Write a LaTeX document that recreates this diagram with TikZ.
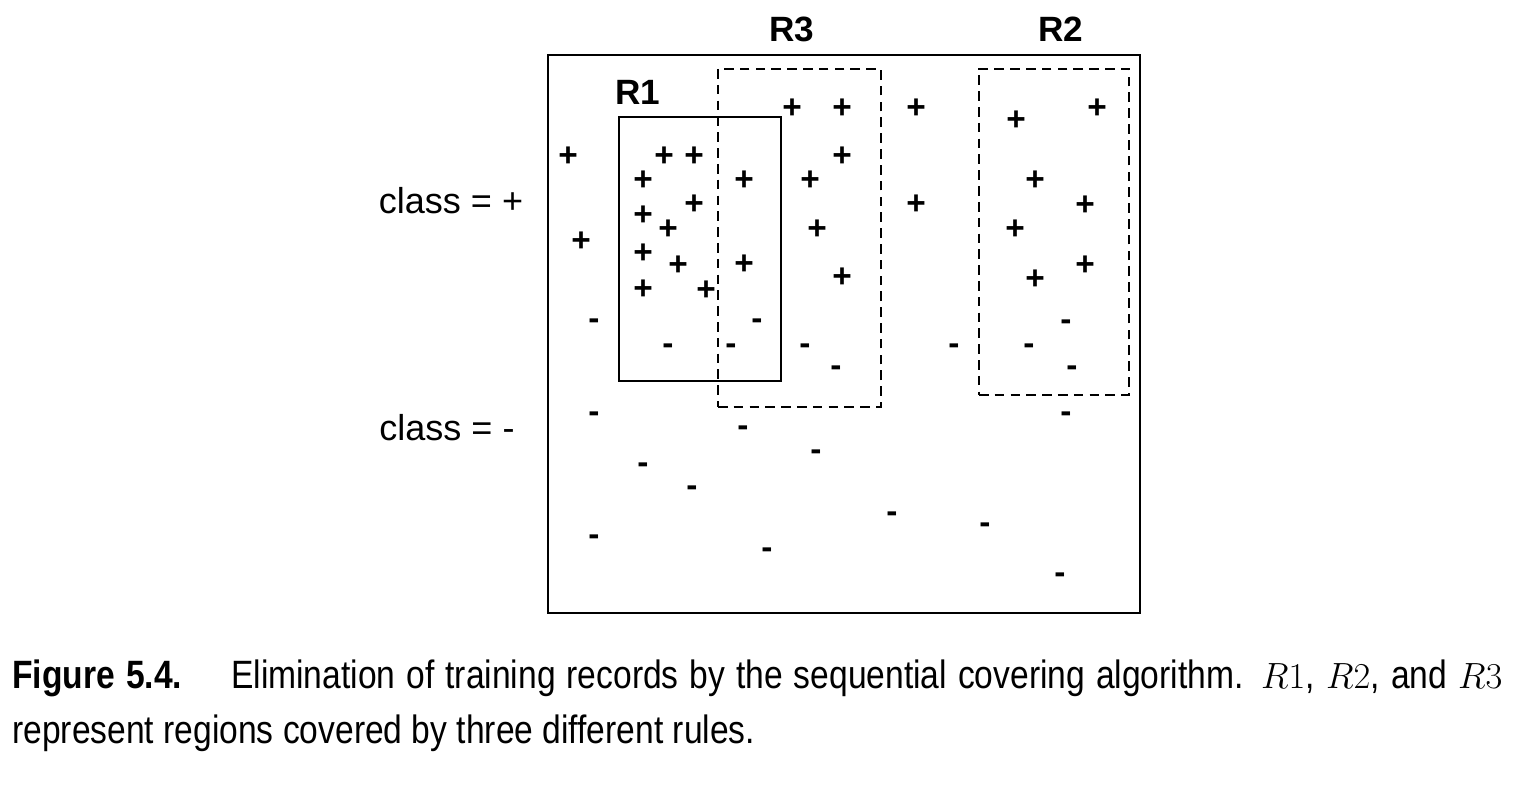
\documentclass[tikz,border=0pt]{standalone}
\usepackage{fontspec}
\setmainfont{Liberation Sans}
\newfontfamily\capfont[FakeStretch=0.85]{Liberation Sans}
\begin{document}
\begin{tikzpicture}[x=0.02cm,y=-0.02cm,
 pt/.style={font=\fontsize{19}{19}\selectfont\bfseries,inner sep=0pt},
 lab/.style={font=\fontsize{20}{20}\selectfont\bfseries,inner sep=0pt},
 cls/.style={font=\fontsize{20.5}{20}\selectfont,inner sep=0pt},
 dashedbox/.style={draw,line width=1pt,dash pattern=on 5.5pt off 3.5pt}]
\useasboundingbox (0,0) rectangle (1522,793);
\node[draw,line width=1pt,minimum width=592*0.02cm,minimum height=558*0.02cm,anchor=north west] (box) at (547,54) {};
\node[draw,line width=1pt,minimum width=162*0.02cm,minimum height=264*0.02cm,anchor=north west] (r1) at (618,116) {};
\node[dashedbox,minimum width=163*0.02cm,minimum height=338*0.02cm,anchor=north west] (r3) at (717,68) {};
\node[dashedbox,minimum width=150*0.02cm,minimum height=326*0.02cm,anchor=north west] (r2) at (978,68) {};
\node[lab] (l1) at (638,92) {R1};
\node[lab] (l3) at (792,29) {R3};
\node[lab] (l2) at (1061,29) {R2};
\node[cls] (cp) at (451,201) {class = +};
\node[cls] (cm) at (447,428) {class = -};
\foreach \x/\y [count=\i] in {568/155,581/240,664/155,694/155,643/179,744/179,643/214,694/203,668/228,643/252,678/264,744/263,643/288,706/289,792/107,842/107,916/107,842/155,810/179,916/203,817/228,842/276,1016/119,1097/107,1035/179,1085/204,1015/228,1085/264,1035/278}
  \node[pt] (p\i) at (\x,\y+2) {+};
\foreach \x/\y [count=\i] in {594/322,757/322,668/347,731/347,805/347,954/347,836/369,1066/323,1029/347,1072/369,594/415,1066/415,743/429,816/453,643/466,692/489,892/515,985/526,594/538,767/551,1060/576}
  \node[pt] (m\i) at (\x,\y+2) {-};
\node[anchor=north west,inner sep=0pt,text width=1490*0.02cm,align=justify,font=\capfont\fontsize{22.5}{31}\selectfont] (cap) at (12,660)
 {\textbf{Figure 5.4.}\hspace{0.8em} Elimination of training records by the sequential covering algorithm. $R1$, $R2$, and $R3$\linebreak represent regions covered by three different rules.};
\end{tikzpicture}
\end{document}
